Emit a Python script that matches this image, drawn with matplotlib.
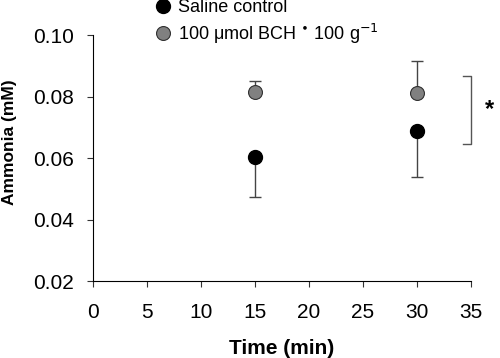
import matplotlib.pyplot as plt

plt.rcParams['font.family'] = ['Liberation Sans', 'DejaVu Sans']

# datos leidos da figura
tempo = [15, 30]
saline = [0.0605, 0.0688]
saline_err = [0.0132, 0.0150]
bch = [0.0815, 0.0812]
bch_err = [0.0035, 0.0103]
bracket = [0.0646, 0.0868]

fig = plt.figure(figsize=(5, 3.58), dpi=100)
ax = fig.add_axes([0.186, 0.215, 0.756, 0.687])

ax.errorbar(tempo, saline, yerr=[saline_err, [0, 0]], fmt='none', ecolor='#444444',
            elinewidth=1, capsize=4, capthick=1)
ax.errorbar(tempo, bch, yerr=[[0, 0], bch_err], fmt='none', ecolor='#444444',
            elinewidth=1, capsize=4, capthick=1)
ax.plot(tempo, saline, 'o', color='black', markersize=10, label='Saline control', clip_on=False)
ax.plot(tempo, bch, 'o', color='#808080', markeredgecolor='#303030', markeredgewidth=0.8,
        markersize=10, label='100 μmol BCH $^{\\bullet}$ 100 g$^{-1}$', clip_on=False)

# colchete de significancia
ax.plot([34.3, 35, 35, 34.3], [bracket[0], bracket[0], bracket[1], bracket[1]],
        color='#555555', lw=1, clip_on=False)
ax.text(36.7, (bracket[0] + bracket[1]) / 2, '*', fontsize=17, fontweight='bold',
        ha='center', va='center', clip_on=False)

ax.set_xlim(0, 35)
ax.set_ylim(0.02, 0.10)
ax.set_xticks(range(0, 36, 5))
ax.set_yticks([0.02, 0.04, 0.06, 0.08, 0.10])
ax.set_yticklabels(['0.02', '0.04', '0.06', '0.08', '0.10'])
ax.tick_params(labelsize=15, direction='out', length=4, color='#333333')
ax.tick_params(axis='x', pad=12)
ax.tick_params(axis='y', pad=10)
ax.spines['top'].set_visible(False)
ax.spines['right'].set_visible(False)
ax.set_xlabel('Time (min)', fontsize=15, fontweight='bold', labelpad=12)
ax.set_ylabel('Ammonia (mM)', fontsize=12.5, fontweight='bold')
ax.yaxis.set_label_coords(-0.200, 0.565)

fig.legend(loc='center left', bbox_to_anchor=(0.305, 0.937), frameon=False, fontsize=13,
           handletextpad=0.2, labelspacing=0.3, handlelength=1.2, borderpad=0,
           borderaxespad=0)

fig.savefig('out.png', dpi=100)
